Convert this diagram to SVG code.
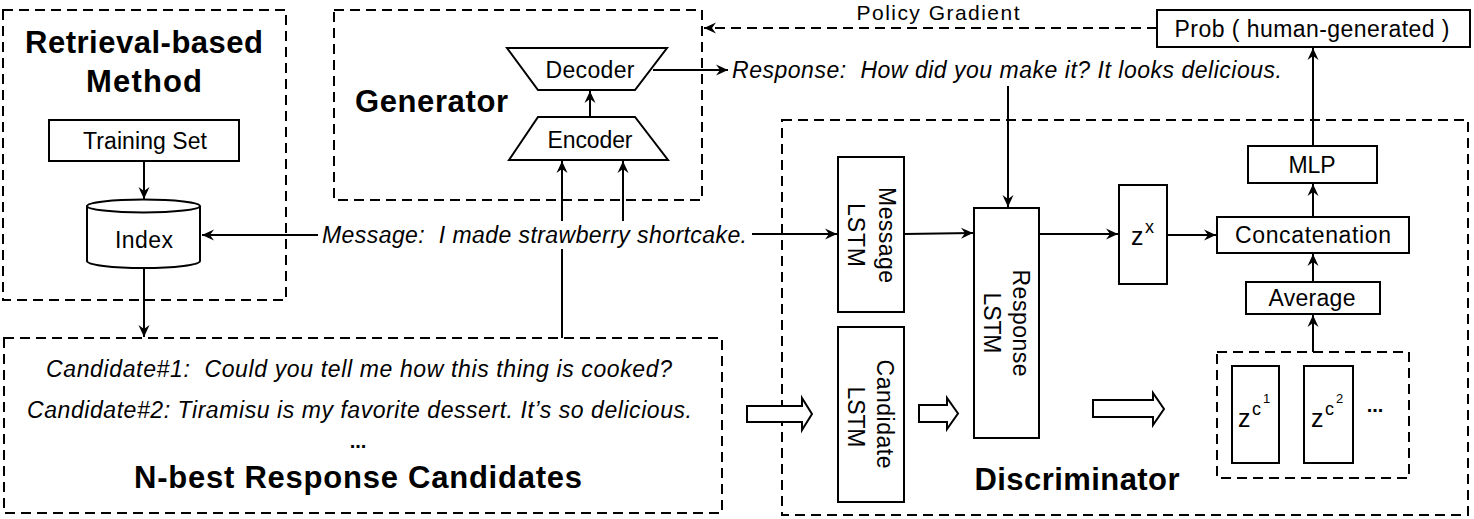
<svg xmlns="http://www.w3.org/2000/svg" width="1474" height="519" viewBox="0 0 1474 519">
<style>
text{font-family:"Liberation Sans",Arial,sans-serif;fill:#000}
.t{font-size:23px}
.it{font-size:23px;font-style:italic}
.b{font-size:31px;font-weight:bold}
.box{fill:#fff;stroke:#000;stroke-width:2}
.dash{fill:none;stroke:#000;stroke-width:2;stroke-dasharray:10 6}
.ln{fill:none;stroke:#000;stroke-width:2}
.arr{fill:none;stroke:#000;stroke-width:2;marker-end:url(#ah)}
.blk{fill:#fff;stroke:#000;stroke-width:2;stroke-linejoin:miter}
</style>
<defs>
<marker id="ah" markerUnits="userSpaceOnUse" viewBox="-13 -7 14 14" refX="0" refY="0" markerWidth="14" markerHeight="14" orient="auto">
<path d="M0,0 L-12,-5.5 L-8,0 L-12,5.5 Z" fill="#000"/>
</marker>
</defs>
<rect width="1474" height="519" fill="#fff"/>

<g id="retrieval">
<rect class="dash" x="3" y="10" width="283" height="290"/>
<text class="b" x="144" y="53" text-anchor="middle" textLength="238">Retrieval-based</text>
<text class="b" x="144" y="92" text-anchor="middle" textLength="116">Method</text>
</g>
<g id="training-set">
<rect class="box" x="49" y="120" width="190" height="41"/>
<text class="t" x="145" y="149" text-anchor="middle" textLength="124">Training Set</text>
</g>
<g id="index">
<path class="box" d="M87,206 L87,261 A56.5,7 0 0 0 200,261 L200,206"/>
<ellipse class="box" cx="143.5" cy="206" rx="56.5" ry="6.5"/>
<text class="t" x="144" y="248" text-anchor="middle" textLength="58">Index</text>
</g>

<g id="generator">
<rect class="dash" x="334" y="10" width="368" height="190"/>
<text class="b" x="355" y="112" textLength="153">Generator</text>
</g>
<g id="decoder">
<path class="box" d="M507,48 L667,48 L635,90 L538,90 Z"/>
<text class="t" x="590" y="78" text-anchor="middle" textLength="89">Decoder</text>
</g>
<g id="encoder">
<path class="box" d="M538,117 L635,117 L668,160 L509,160 Z"/>
<text class="t" x="590" y="148" text-anchor="middle" textLength="85">Encoder</text>
</g>

<g id="prob">
<rect class="box" x="1157" y="10" width="313" height="37"/>
<text class="t" x="1312" y="37" text-anchor="middle" textLength="275">Prob ( human-generated )</text>
</g>

<g id="message-text">
<text class="it" x="322" y="243" textLength="425">Message:&#160; I made strawberry shortcake.</text>
</g>
<g id="response-text">
<text class="it" x="732" y="78" textLength="550">Response:&#160; How did you make it? It looks delicious.</text>
</g>

<g id="candidates">
<rect class="dash" x="4" y="338" width="718" height="175"/>
<text class="it" x="46" y="377" textLength="626">Candidate#1:&#160; Could you tell me how this thing is cooked?</text>
<text class="it" x="27" y="418" textLength="665">Candidate#2: Tiramisu is my favorite dessert. It’s so delicious.</text>
<text class="t" x="358" y="448" text-anchor="middle" style="font-weight:bold;font-size:20px">...</text>
<text class="b" x="358" y="488" text-anchor="middle" textLength="448">N-best Response Candidates</text>
</g>

<g id="discriminator">
<rect class="dash" x="782" y="120" width="686" height="395"/>
<text class="b" x="1077" y="490" text-anchor="middle" textLength="205">Discriminator</text>
</g>
<g id="message-lstm">
<rect class="box" x="838" y="157" width="66" height="155"/>
<text class="t" transform="translate(879,235) rotate(90)" text-anchor="middle" textLength="96">Message</text>
<text class="t" transform="translate(848,235) rotate(90)" text-anchor="middle" textLength="64">LSTM</text>
</g>
<g id="candidate-lstm">
<rect class="box" x="838" y="327" width="66" height="175"/>
<text class="t" transform="translate(877,414) rotate(90)" text-anchor="middle" textLength="109">Candidate</text>
<text class="t" transform="translate(848,417) rotate(90)" text-anchor="middle" textLength="61">LSTM</text>
</g>
<g id="response-lstm">
<rect class="box" x="974" y="208" width="65" height="230"/>
<text class="t" transform="translate(1013,323) rotate(90)" text-anchor="middle" textLength="107">Response</text>
<text class="t" transform="translate(984,323) rotate(90)" text-anchor="middle" textLength="61">LSTM</text>
</g>
<g id="zx">
<rect class="box" x="1119" y="185" width="48" height="99"/>
<text class="t" x="1131" y="245" style="font-size:25px">z</text>
<text x="1145" y="233" style="font-size:18px">x</text>
</g>
<g id="concatenation">
<rect class="box" x="1217" y="217" width="192" height="36"/>
<text class="t" x="1313" y="243" text-anchor="middle" textLength="156">Concatenation</text>
</g>
<g id="mlp">
<rect class="box" x="1248" y="146" width="129" height="37"/>
<text class="t" x="1312" y="173" text-anchor="middle" textLength="47">MLP</text>
</g>
<g id="average">
<rect class="box" x="1246" y="282" width="134" height="32"/>
<text class="t" x="1312" y="306" text-anchor="middle" textLength="87">Average</text>
</g>
<g id="z-candidates">
<rect class="dash" x="1217" y="352" width="192" height="126"/>
<rect class="box" x="1232" y="366" width="47" height="97"/>
<text class="t" x="1238" y="427" style="font-size:25px">z</text>
<text x="1252" y="415" style="font-size:18px">c</text>
<text x="1263" y="403" style="font-size:13px">1</text>
<rect class="box" x="1304" y="366" width="49" height="97"/>
<text class="t" x="1311" y="427" style="font-size:25px">z</text>
<text x="1325" y="415" style="font-size:18px">c</text>
<text x="1336" y="403" style="font-size:13px">2</text>
<text class="t" x="1375" y="412" text-anchor="middle" style="font-weight:bold;font-size:20px">...</text>
</g>

<g id="connectors">
<line class="arr" x1="144" y1="161" x2="144" y2="199"/>
<line class="arr" x1="318" y1="235" x2="202" y2="235"/>
<line class="arr" x1="144" y1="268" x2="144" y2="337"/>
<line class="ln" x1="562" y1="338" x2="562" y2="249"/>
<line class="arr" x1="562" y1="221" x2="562" y2="161"/>
<line class="arr" x1="623" y1="221" x2="623" y2="161"/>
<line class="arr" x1="590" y1="117" x2="590" y2="91"/>
<line class="arr" x1="653" y1="70" x2="728" y2="70"/>
<line class="arr" x1="1157" y1="28" x2="704" y2="28" style="stroke-dasharray:10 6"/>
<line class="arr" x1="1008" y1="86" x2="1008" y2="207"/>
<line class="arr" x1="752" y1="234" x2="837" y2="234"/>
<line class="arr" x1="904" y1="234" x2="973" y2="233"/>
<line class="arr" x1="1039" y1="234" x2="1118" y2="234"/>
<line class="arr" x1="1167" y1="235" x2="1216" y2="235"/>
<line class="arr" x1="1313" y1="217" x2="1313" y2="184"/>
<line class="arr" x1="1313" y1="282" x2="1313" y2="254"/>
<line class="arr" x1="1313" y1="352" x2="1313" y2="315"/>
<line class="arr" x1="1313" y1="146" x2="1313" y2="48"/>
<path class="blk" d="M747,406 L802,406 L802,398 L812,414 L802,430 L802,422 L747,422 Z"/>
<path class="blk" d="M919,405 L947,405 L947,398 L958,413.5 L947,429 L947,422 L919,422 Z"/>
<path class="blk" d="M1093,400 L1153,400 L1153,393 L1164,409 L1153,425 L1153,417 L1093,417 Z"/>
</g>
<text x="938" y="20" text-anchor="middle" style="font-size:21px" textLength="163">Policy Gradient</text>
</svg>
